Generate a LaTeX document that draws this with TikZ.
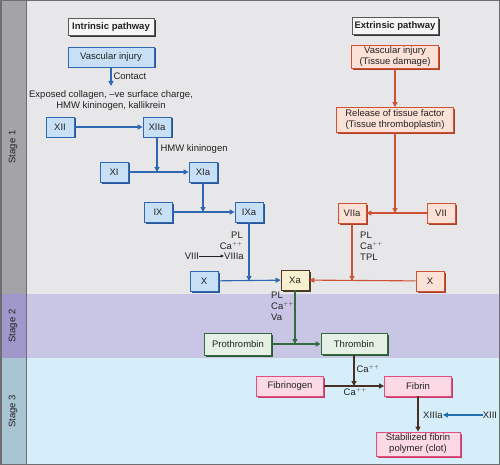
\documentclass[tikz,border=0pt]{standalone}
\usepackage{fontspec}
\setmainfont{Liberation Sans}
\usetikzlibrary{arrows.meta,shadows}

\definecolor{stoneback}{HTML}{E7E7E9}
\definecolor{stonebar}{HTML}{A4A4A8}
\definecolor{sttwoback}{HTML}{C9C5E4}
\definecolor{sttwobar}{HTML}{A097CB}
\definecolor{stthreeback}{HTML}{D5EEF9}
\definecolor{stthreebar}{HTML}{A9C5D1}
\definecolor{framegray}{HTML}{6E6E72}
\definecolor{headfill}{HTML}{F6F6F6}
\definecolor{headline}{HTML}{5A5A5A}
\definecolor{intfill}{HTML}{C8E0F5}
\definecolor{intline}{HTML}{2F67B2}
\definecolor{intshadow}{HTML}{2A5596}
\definecolor{extfill}{HTML}{FCE2D6}
\definecolor{extline}{HTML}{CF5234}
\definecolor{extshadow}{HTML}{A8402A}
\definecolor{xafill}{HTML}{F8F0CF}
\definecolor{xaline}{HTML}{4A3A26}
\definecolor{profill}{HTML}{E5F1E5}
\definecolor{proline}{HTML}{356A40}
\definecolor{proshadow}{HTML}{2A5A30}
\definecolor{fibfill}{HTML}{FCD9E5}
\definecolor{fibline}{HTML}{E0507A}
\definecolor{fibshadow}{HTML}{C83A64}
\definecolor{clotline}{HTML}{4A3022}
\definecolor{xiiiline}{HTML}{2070B0}
\definecolor{textgray}{HTML}{222222}

\newcommand\capp{Ca$^{\scriptscriptstyle ++}$}

\tikzset{
	factor/.style={draw, line width=0.8pt, minimum width=28pt, minimum height=20pt, inner sep=2pt, align=center, text=textgray},
	headbox/.style={factor, draw=headline, fill=headfill, font=\fontsize{9.5}{11}\selectfont\bfseries, minimum width=86pt, minimum height=17pt, drop shadow={shadow xshift=1.5pt, shadow yshift=-1.5pt, fill=black!80, opacity=1}},
	intbox/.style={factor, draw=intline, fill=intfill, drop shadow={shadow xshift=1.5pt, shadow yshift=-1.5pt, fill=intshadow, opacity=1}},
	extbox/.style={factor, draw=extline, fill=extfill, drop shadow={shadow xshift=1.5pt, shadow yshift=-1.5pt, fill=extshadow, opacity=1}},
	xabox/.style={factor, draw=xaline, fill=xafill, drop shadow={shadow xshift=1.5pt, shadow yshift=-1.5pt, fill=xaline, opacity=1}},
	probox/.style={factor, draw=proline, fill=profill, drop shadow={shadow xshift=1.5pt, shadow yshift=-1.5pt, fill=proshadow, opacity=1}},
	fibbox/.style={factor, draw=fibline, fill=fibfill, drop shadow={shadow xshift=1.5pt, shadow yshift=-1.5pt, fill=fibshadow, opacity=1}},
	tip/.style={-{Triangle[length=5pt,width=5pt]}},
	intarrow/.style={tip, draw=intline, line width=1.1pt},
	extarrow/.style={tip, draw=extline, line width=1.1pt},
	proarrow/.style={tip, draw=proline, line width=1.1pt},
	clotarrow/.style={tip, draw=clotline, line width=1.1pt},
	cofactor/.style={inner sep=0pt, text=textgray, align=left}
}

\begin{document}
\begin{tikzpicture}[x=1pt, y=-1pt, font=\fontsize{9.5}{11}\selectfont]
	\useasboundingbox (0,0) rectangle (500,465);
	% stage bands
	\foreach \top/\bot/\back/\bar/\label in {0/294/stoneback/stonebar/Stage 1, 294/358/sttwoback/sttwobar/Stage 2, 358/465/stthreeback/stthreebar/Stage 3} {
		\fill[\back] (0,\top) rectangle (500,\bot);
		\fill[\bar] (0,\top) rectangle (26,\bot);
		\node[rotate=90, text=textgray] at (13,{(\top+\bot)/2}) {\label};
		\draw[framegray, line width=1pt] (0,\bot) -- (500,\bot);
	}
	\draw[framegray, line width=0.6pt] (26,0) -- (26,465);
	\draw[framegray, line width=1.5pt] (0.75,0.75) rectangle (499.25,464.25);

	% intrinsic pathway
	\node[headbox] (ihead) at (111,27) {Intrinsic pathway};
	\node[intbox, minimum width=86pt] (ivasc) at (111,57) {Vascular injury};
	\coordinate (contact) at (111,86);
	\node[inner sep=0pt, align=center, text=textgray] (exposed) at (111,101) {Exposed collagen, –ve surface charge,\\HMW kininogen, kallikrein};
	\node[intbox] (xii) at (60,127) {XII};
	\node[intbox] (xiia) at (157,127) {XIIa};
	\node[intbox] (xi) at (114,172) {XI};
	\node[intbox] (xia) at (203,172) {XIa};
	\node[intbox] (ix) at (158,212) {IX};
	\node[intbox] (ixa) at (249,212) {IXa};
	\node[intbox] (xint) at (204,281) {X};
	\node[cofactor] (viiia) at (234,256) {VIIIa};
	\node[cofactor] (viii) at (192,256) {VIII};
	\node[cofactor, align=right, anchor=south east] (ipl) at (243,250) {PL\\\capp};

	\draw[intarrow] (ivasc) -- (contact) node[midway, right, text=textgray, inner sep=2pt] {Contact};
	\draw[intarrow] (xii) -- (xiia);
	\draw[intarrow] (xiia) -- (xiia |- xi) node[pos=0.35, right, text=textgray, inner sep=3pt] {HMW kininogen};
	\draw[intarrow] (xi) -- (xia);
	\draw[intarrow] (xia) -- (xia |- ix);
	\draw[intarrow] (ix) -- (ixa);
	\draw[intarrow] (ixa) -- (ixa |- xint);
	\draw[-{Triangle[length=3.5pt,width=3pt]}, textgray, line width=0.5pt] (viii) -- (viiia);

	% extrinsic pathway
	\node[headbox] (ehead) at (395,26) {Extrinsic pathway};
	\node[extbox, minimum width=87pt, minimum height=23pt, inner sep=1pt] (evasc) at (395,57) {Vascular injury\\(Tissue damage)};
	\node[extbox, minimum width=117pt, minimum height=25pt, inner sep=1pt] (tf) at (395,120) {Release of tissue factor\\(Tissue thromboplastin)};
	\node[extbox] (viia) at (352,213) {VIIa};
	\node[extbox] (vii) at (441,213) {VII};
	\node[extbox] (xext) at (430,281) {X};
	\node[cofactor, anchor=north west] (epl) at (360,232) {PL\\\capp\\TPL};

	\draw[extarrow] (evasc) -- (tf);
	\draw[extarrow] (tf) -- (tf |- vii);
	\draw[extarrow] (vii) -- (viia);
	\draw[extarrow] (viia) -- (viia |- xext);

	% common pathway
	\node[xabox] (xa) at (295,280) {Xa};
	\draw[intarrow] (xint) -- (xa);
	\draw[extarrow] (xext) -- (xa);

	% stage 2
	\node[probox, minimum width=67pt, minimum height=22pt] (prothrombin) at (238,344) {Prothrombin};
	\node[probox, minimum width=66pt, minimum height=21pt] (thrombin) at (354,344) {Thrombin};
	\node[cofactor, anchor=north west] (xapl) at (271,292) {PL\\\capp\\Va};
	\draw[proarrow] (xa) -- (xa |- prothrombin);
	\draw[proarrow] (prothrombin) -- (thrombin);

	% stage 3
	\node[fibbox, minimum width=67pt] (fibrinogen) at (290,386) {Fibrinogen};
	\node[fibbox, minimum width=67pt] (fibrin) at (418,386) {Fibrin};
	\node[fibbox, minimum width=84pt, minimum height=24pt, inner sep=1pt] (clot) at (418,444) {Stabilized fibrin\\polymer (clot)};
	\node[cofactor] (xiiia) at (433,415) {XIIIa};
	\node[cofactor] (xiii) at (490,415) {XIII};

	\draw[clotarrow] (thrombin) -- (thrombin |- fibrinogen) node[pos=0.45, right, text=textgray, inner sep=2pt] {\capp};
	\draw[clotarrow] (fibrinogen) -- (fibrin) node[pos=0.52, below, text=textgray, inner sep=2pt] {\capp};
	\draw[clotarrow] (fibrin) -- (clot);
	\draw[tip, draw=xiiiline, line width=1.1pt] (xiii) -- (xiiia);
\end{tikzpicture}
\end{document}
